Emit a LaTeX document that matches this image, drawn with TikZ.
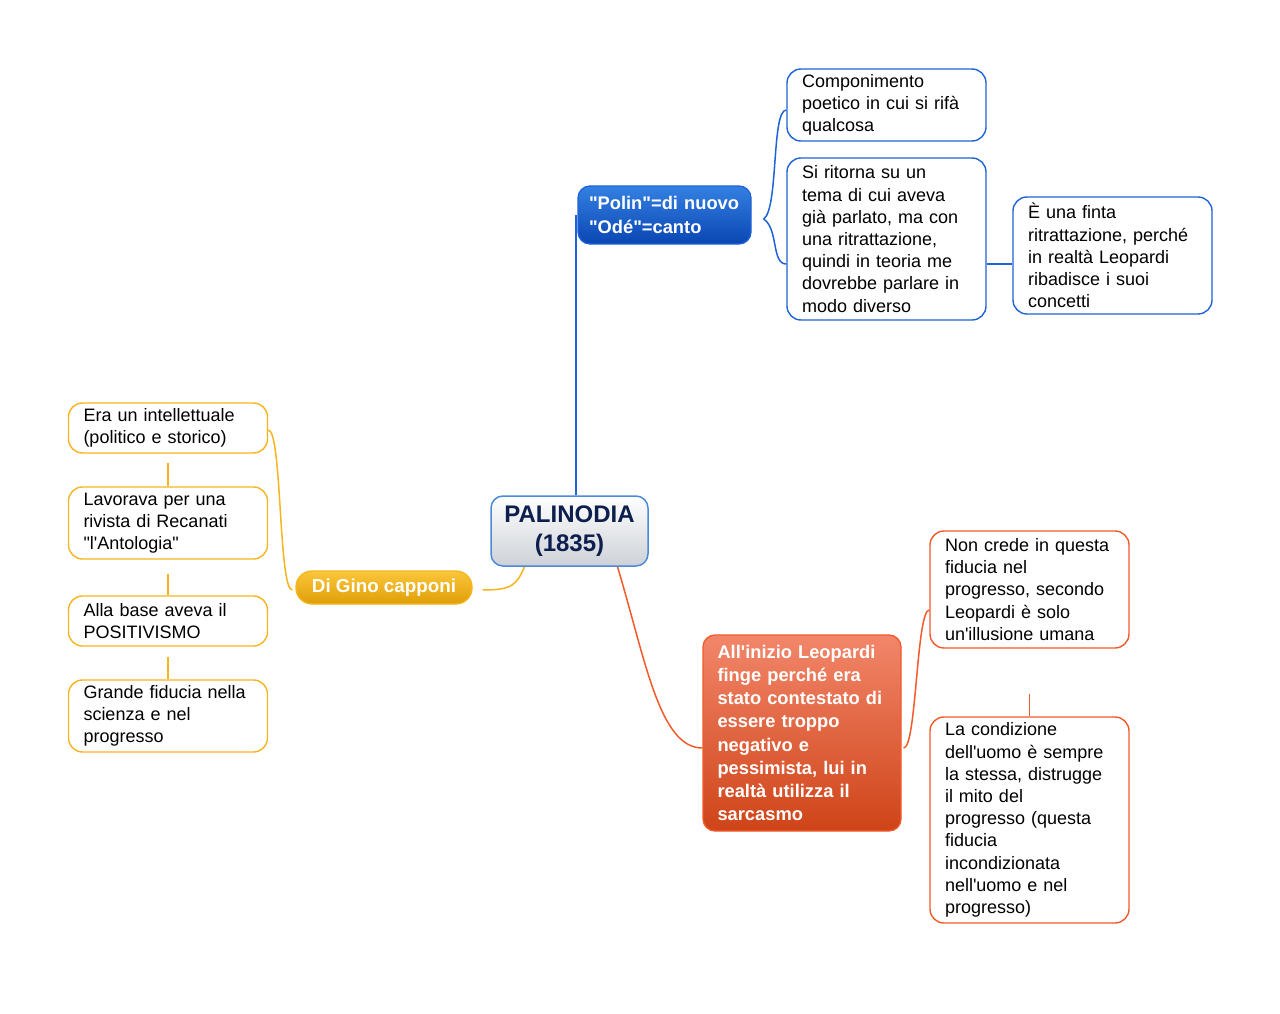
\documentclass[tikz,border=0pt]{standalone}
\usepackage{fontspec}
\setmainfont{Liberation Sans}
\usetikzlibrary{backgrounds,calc}
\definecolor{bluMappa}{HTML}{1F63D6}
\definecolor{bluAlto}{HTML}{3480E2}
\definecolor{bluBasso}{HTML}{0A46B3}
\definecolor{bordoCentro}{HTML}{4A8AD8}
\definecolor{grigioCentro}{HTML}{CDD1D7}
\definecolor{navyTesto}{HTML}{0D1F4D}
\definecolor{gialloMappa}{HTML}{F6B51C}
\definecolor{gialloAlto}{HTML}{FBC63A}
\definecolor{gialloBasso}{HTML}{E09E08}
\definecolor{aranMappa}{HTML}{F25A2A}
\definecolor{aranAlto}{HTML}{F2866A}
\definecolor{aranBasso}{HTML}{CF4418}
\newcommand{\ap}{\textquotesingle}
\newcommand{\vv}{\textquotedbl}

\begin{document}
\begin{tikzpicture}[x=1pt,y=-1pt,
  centro/.style={draw=bordoCentro,line width=1.5pt,rounded corners=12pt,top color=white,
    bottom color=grigioCentro,align=center,text=navyTesto,
    font=\fontsize{24}{29}\selectfont\bfseries,minimum width=157pt,minimum height=70pt},
  ramo/.style={rounded corners=12pt,text=white,line width=1.3pt,
    font=\fontsize{18.3}{23.2}\selectfont\bfseries,inner xsep=14pt,inner ysep=3pt},
  foglia/.style={draw,rounded corners=14pt,fill=white,align=left,line width=1.4pt,
    font=\fontsize{18}{22.2}\selectfont,inner xsep=15pt,inner ysep=3pt,
    text width=169pt,minimum width=199pt},
  link/.style={line width=1.5pt}
]
\useasboundingbox (0,0) rectangle (1280,1014);

% nodo centrale
\node[centro] (pal) at (569.5,531) {PALINODIA\\(1835)};

% ramo blu
\node[ramo,draw=bluMappa,top color=bluAlto,bottom color=bluBasso,align=left,
  inner xsep=11pt,text width=151pt,minimum width=173pt,minimum height=58pt] (polin) at (664.5,215)
  {\vv Polin\vv=di nuovo\\\vv Odé\vv=canto};
\node[foglia,draw=bluMappa,minimum height=72pt] (comp) at (886.5,105)
  {Componimento\\poetico in cui si rifà\\qualcosa};
\node[foglia,draw=bluMappa,minimum height=162pt] (sirit) at (886.5,239)
  {Si ritorna su un\\tema di cui aveva\\già parlato, ma con\\una ritrattazione,\\quindi in teoria me\\dovrebbe parlare in\\modo diverso};
\node[foglia,draw=bluMappa,minimum height=117pt] (finta) at (1112.5,255.5)
  {È una finta\\ritrattazione, perché\\in realtà Leopardi\\ribadisce i suoi\\concetti};

% ramo giallo
\node[ramo,draw=gialloMappa,top color=gialloAlto,bottom color=gialloBasso,align=center,
  font=\fontsize{18.8}{23}\selectfont\bfseries,
  rounded corners=16pt,minimum width=176pt,minimum height=33pt] (gino) at (384,587.5)
  {Di Gino capponi};
\node[foglia,draw=gialloMappa,minimum height=50pt] (era) at (168,428)
  {Era un intellettuale\\(politico e storico)};
\node[foglia,draw=gialloMappa,minimum height=72pt] (lav) at (168,523)
  {Lavorava per una\\rivista di Recanati\\\vv l\ap Antologia\vv};
\node[foglia,draw=gialloMappa,minimum height=50pt] (alla) at (168,621)
  {Alla base aveva il\\POSITIVISMO};
\node[foglia,draw=gialloMappa,minimum height=72pt] (grande) at (168,716)
  {Grande fiducia nella\\scienza e nel\\progresso};

% ramo arancione
\node[ramo,draw=aranMappa,top color=aranAlto,bottom color=aranBasso,align=left,
  text width=169pt,minimum width=198pt,minimum height=196pt] (sarc) at (802,733)
  {All\ap inizio Leopardi\\finge perché era\\stato contestato di\\essere troppo\\negativo e\\pessimista, lui in\\realtà utilizza il\\sarcasmo};
\node[foglia,draw=aranMappa,minimum height=117pt] (noncr) at (1029.5,589.5)
  {Non crede in questa\\fiducia nel\\progresso, secondo\\Leopardi è solo\\un\ap illusione umana};
\node[foglia,draw=aranMappa,minimum height=206pt] (lacond) at (1029.5,820)
  {La condizione\\dell\ap uomo è sempre\\la stessa, distrugge\\il mito del\\progresso (questa\\fiducia\\incondizionata\\nell\ap uomo e nel\\progresso)};

% collegamenti
\begin{scope}[on background layer]
\draw[link,bluMappa,line width=2pt] ([xshift=-1pt]pal.north -| polin.west) -- ([xshift=-1pt]polin.west);
\coordinate (graffa) at ($(polin.east)+(12,4)$);
\draw[link,bluMappa] (graffa) .. controls +(15,-10) and +(-15,0) .. ([yshift=-5pt]comp.west);
\draw[link,bluMappa] (graffa) .. controls +(15,10) and +(-15,0) .. ([yshift=-25pt]sirit.west);
\draw[link,bluMappa] ([yshift=-25pt]sirit.east) -- ([yshift=-8.5pt]finta.west);

\draw[link,gialloMappa] ([xshift=-45pt]pal.south) .. controls +(-8,18) and +(30,0) .. ([xshift=10pt,yshift=-2.5pt]gino.east);
\draw[link,gialloMappa] ([xshift=-3pt,yshift=-2.5pt]gino.west) .. controls +(-14,0) and +(14,0) .. ([yshift=-2pt]era.east);
\draw[link,gialloMappa,shorten <=9pt] (era.south) -- (lav.north);
\draw[link,gialloMappa,shorten <=14pt] (lav.south) -- (alla.north);
\draw[link,gialloMappa,shorten <=10pt] (alla.south) -- (grande.north);

\draw[link,aranMappa] ([xshift=48pt]pal.south) .. controls +(28,93) and +(-43,0) .. ([yshift=-15pt]sarc.west);
\draw[link,aranMappa] ([xshift=2pt,yshift=-15pt]sarc.east) .. controls +(13,0) and +(-13,0) .. ([yshift=-20.5pt]noncr.west);
\draw[link,aranMappa,shorten <=45pt] (noncr.south) -- (lacond.north);
\end{scope}
\end{tikzpicture}
\end{document}
